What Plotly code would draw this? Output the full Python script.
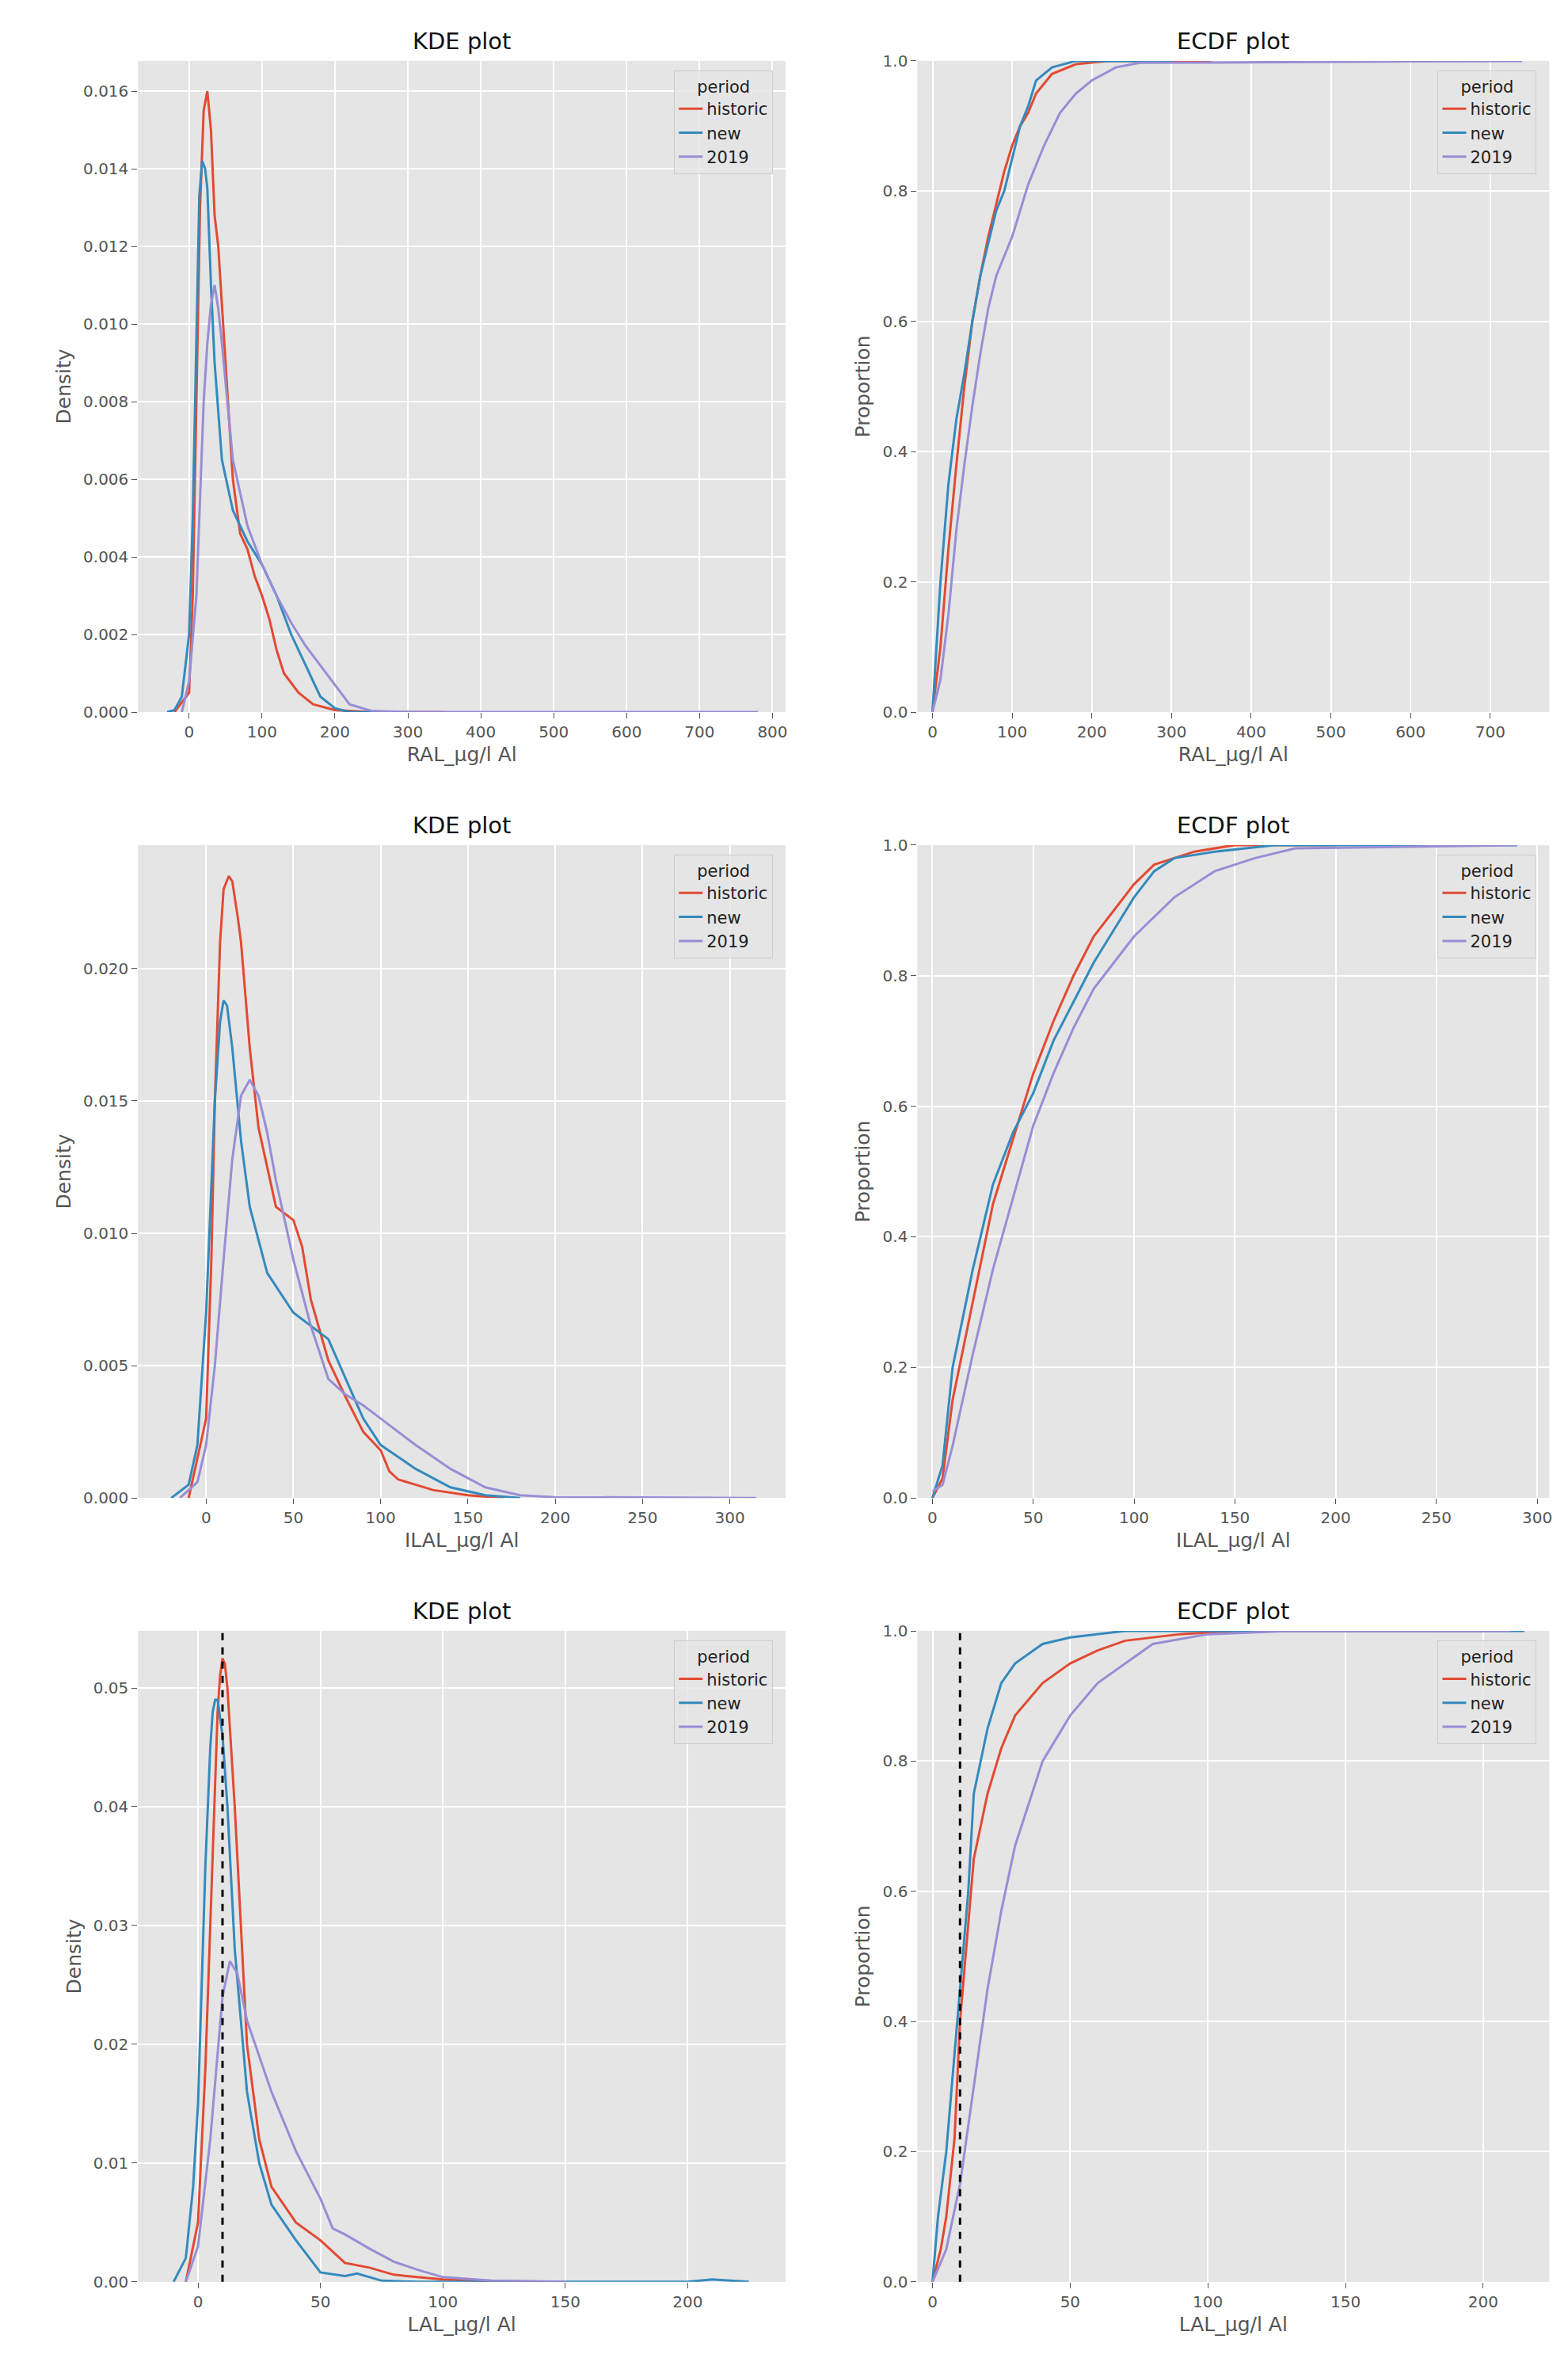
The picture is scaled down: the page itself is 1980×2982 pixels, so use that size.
import plotly.graph_objects as go

C = {"historic": "#E24A33", "new": "#348ABD", "2019": "#988ED5"}
periods = ["historic", "new", "2019"]

# ---- KDE data (x, density) ----
kde1 = {
 "historic": ([-20,0,5,10,15,20,25,30,35,40,50,60,70,80,90,100,110,120,130,150,170,200,250,350],
              [0,0.0005,0.003,0.008,0.013,0.0155,0.016,0.015,0.0128,0.012,0.009,0.006,0.0046,0.0042,0.0035,0.003,0.0024,0.0016,0.001,0.0005,0.0002,0.00005,0,0]),
 "new": ([-30,-20,-10,0,5,10,14,18,22,25,30,35,45,60,80,100,120,140,160,180,200,220,300],
         [0,0.00005,0.0004,0.002,0.005,0.01,0.0133,0.0142,0.014,0.0135,0.011,0.009,0.0065,0.0052,0.0044,0.0038,0.003,0.002,0.0012,0.0004,0.0001,0,0]),
 "2019": ([-10,0,10,20,25,30,35,40,45,60,80,100,120,140,160,180,200,220,250,300,780],
          [0,0.0008,0.003,0.008,0.0095,0.0105,0.011,0.0104,0.0095,0.0065,0.0048,0.0038,0.003,0.0023,0.0017,0.0012,0.0007,0.0002,0.00003,0,0]),
}
kde2 = {
 "historic": ([-10,0,3,5,8,10,13,15,18,20,25,30,40,50,55,60,70,80,90,100,105,110,120,130,150,170],
              [0,0.003,0.009,0.015,0.021,0.023,0.0235,0.0233,0.022,0.021,0.017,0.014,0.011,0.0105,0.0095,0.0075,0.0052,0.0038,0.0025,0.0018,0.001,0.0007,0.0005,0.0003,0.0001,0]),
 "new": ([-20,-10,-5,0,5,8,10,12,15,20,25,35,50,60,70,80,90,100,120,140,160,180],
         [0,0.0005,0.002,0.007,0.015,0.018,0.0188,0.0186,0.017,0.0135,0.011,0.0085,0.007,0.0065,0.006,0.0045,0.003,0.002,0.0011,0.0004,0.0001,0]),
 "2019": ([-15,-5,0,5,10,15,20,25,30,35,40,50,60,70,80,90,100,120,140,160,180,200,315],
          [0,0.0006,0.002,0.005,0.009,0.0128,0.0152,0.0158,0.0152,0.0138,0.012,0.009,0.0065,0.0045,0.0039,0.0035,0.003,0.002,0.0011,0.0004,0.0001,0.00003,0]),
}
kde3 = {
 "historic": ([-5,0,3,5,7,8,9,10,11,12,15,20,25,30,40,50,60,70,80,100,120,150],
              [0,0.005,0.018,0.03,0.043,0.048,0.051,0.0525,0.052,0.05,0.04,0.02,0.012,0.008,0.005,0.0035,0.0016,0.0012,0.0006,0.0002,0.00005,0]),
 "new": ([-10,-5,-2,0,3,5,6,7,8,10,12,15,20,25,30,40,50,60,65,75,90,200,210,225],
         [0,0.002,0.008,0.015,0.035,0.045,0.048,0.049,0.049,0.046,0.04,0.028,0.016,0.01,0.0065,0.0035,0.0008,0.0005,0.0007,0.0001,0,0,0.0002,0]),
 "2019": ([-5,0,5,8,10,13,16,20,30,40,50,55,60,70,80,90,100,120,150],
          [0,0.003,0.012,0.019,0.024,0.027,0.026,0.022,0.016,0.011,0.007,0.0045,0.004,0.0028,0.0017,0.001,0.0004,0.0001,0]),
}
# ---- ECDF data (x, proportion) ----
ecdf1 = {
 "historic": ([0,10,20,30,40,50,60,70,80,90,100,110,120,130,150,180,220,350],
              [0,0.1,0.25,0.38,0.5,0.6,0.67,0.73,0.78,0.83,0.87,0.9,0.92,0.95,0.98,0.995,1,1]),
 "new": ([0,10,20,30,40,50,60,70,80,90,100,110,120,130,150,180,300],
         [0,0.2,0.35,0.45,0.52,0.6,0.67,0.72,0.77,0.8,0.85,0.9,0.93,0.97,0.99,1,1]),
 "2019": ([0,10,20,30,40,50,60,70,80,100,120,140,160,180,200,230,260,740],
          [0,0.05,0.15,0.28,0.38,0.47,0.55,0.62,0.67,0.73,0.81,0.87,0.92,0.95,0.97,0.99,0.997,1]),
}
ecdf2 = {
 "historic": ([0,5,10,20,30,40,50,60,70,80,90,100,110,130,150,200],
              [0,0.03,0.15,0.3,0.45,0.55,0.65,0.73,0.8,0.86,0.9,0.94,0.97,0.99,1,1]),
 "new": ([0,5,10,20,30,40,50,60,70,80,90,100,110,120,140,170,290],
         [0,0.05,0.2,0.35,0.48,0.56,0.62,0.7,0.76,0.82,0.87,0.92,0.96,0.98,0.99,1,1]),
 "2019": ([0,5,10,20,30,40,50,60,70,80,90,100,120,140,160,180,290],
          [0.01,0.02,0.08,0.22,0.35,0.46,0.57,0.65,0.72,0.78,0.82,0.86,0.92,0.96,0.98,0.995,1]),
}
ecdf3 = {
 "historic": ([0,3,5,8,10,13,15,20,25,30,40,50,60,70,90,110,200],
              [0,0.05,0.1,0.22,0.4,0.55,0.65,0.75,0.82,0.87,0.92,0.95,0.97,0.985,0.995,1,1]),
 "new": ([0,2,5,8,10,13,15,20,25,30,40,50,70,215],
         [0,0.1,0.2,0.35,0.45,0.6,0.75,0.85,0.92,0.95,0.98,0.99,1,1]),
 "2019": ([0,5,10,15,20,25,30,40,50,60,70,80,100,130,210],
          [0,0.05,0.15,0.3,0.45,0.57,0.67,0.8,0.87,0.92,0.95,0.98,0.995,1,1]),
}

xlabels = ["RAL_µg/l Al", "ILAL_µg/l Al", "LAL_µg/l Al"]
kde_xr = [[-70, 818], [-39, 332], [-24.5, 240]]
kde_yr = [[0, 0.01678], [0, 0.02467], [0, 0.0548]]
kde_dt = [0.002, 0.005, 0.01]
kde_fmt = [".3f", ".3f", ".2f"]
ecdf_xr = [[-19, 774], [-7.5, 306], [-5.5, 224]]
xdt = [[100, 100], [50, 50], [50, 50]]
vline_x = 10

xd = [[0.084, 0.497], [0.581, 0.984]]
yd = [[0.7012, 0.9769], [0.3685, 0.6449], [0.0366, 0.3122]]

fig = go.Figure()
layout = {}
annotations = []
shapes = []
FONT = "DejaVu Sans"
idx = 0
for r, (kd, ed) in enumerate([(kde1, ecdf1), (kde2, ecdf2), (kde3, ecdf3)]):
    for c, data in enumerate([kd, ed]):
        idx += 1
        ax = "" if idx == 1 else str(idx)
        leg = "legend" if idx == 1 else f"legend{idx}"
        for p in periods:
            xs, ys = data[p]
            fig.add_trace(go.Scatter(x=xs, y=ys, mode="lines", name=p,
                line=dict(color=C[p], width=3, shape="linear"),
                xaxis="x" + ax, yaxis="y" + ax, legend=leg))
        grid = dict(showgrid=True, gridcolor="white", gridwidth=1.5, zeroline=False,
                    showline=False, ticks="outside", tickcolor="#555", ticklen=7,
                    automargin=False,
                    tickfont=dict(size=20, color="#555", family=FONT))
        layout["xaxis" + ax] = dict(domain=xd[c], anchor="y" + ax,
            range=kde_xr[r] if c == 0 else ecdf_xr[r], dtick=xdt[r][c],
            title=dict(text=xlabels[r], font=dict(size=25, color="#555", family=FONT), standoff=8), **grid)
        layout["yaxis" + ax] = dict(domain=yd[r], anchor="x" + ax,
            range=kde_yr[r] if c == 0 else [0, 1],
            dtick=kde_dt[r] if c == 0 else 0.2,
            tickformat=kde_fmt[r] if c == 0 else ".1f",
            title=dict(text="Density" if c == 0 else "Proportion",
                       font=dict(size=25, color="#555", family=FONT), standoff=8), **grid)
        layout[leg] = dict(x=xd[c][1] - 0.008, y=yd[r][1] - 0.004, xanchor="right", yanchor="top",
            bgcolor="rgba(229,229,229,0.8)", bordercolor="#ccc", borderwidth=1,
            title=dict(text="period", side="top center", font=dict(size=21, family=FONT)),
            font=dict(size=21, family=FONT, color="#222"), tracegroupgap=0)
        annotations.append(dict(text="KDE plot" if c == 0 else "ECDF plot",
            x=(xd[c][0] + xd[c][1]) / 2, y=yd[r][1], xref="paper", yref="paper",
            xanchor="center", yanchor="bottom", yshift=6, showarrow=False,
            font=dict(size=29, color="#111", family=FONT)))
        if r == 2:
            shapes.append(dict(type="line", x0=vline_x, x1=vline_x, y0=0, y1=1,
                xref="x" + ax, yref="y" + ax + " domain",
                line=dict(color="black", width=3, dash="dash")))

fig.update_layout(**layout)
fig.update_layout(width=1980, height=2982, margin=dict(l=0, r=0, t=0, b=0, autoexpand=False),
    plot_bgcolor="#E5E5E5", paper_bgcolor="white",
    annotations=annotations, shapes=shapes, showlegend=True)
fig.write_html("out.html")
